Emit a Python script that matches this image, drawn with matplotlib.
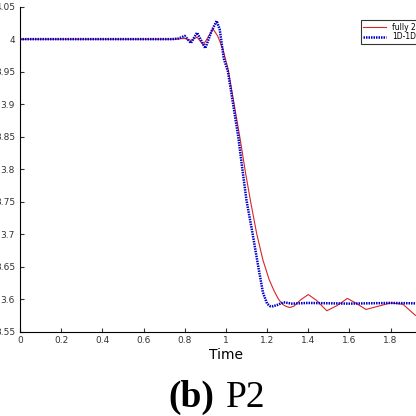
import matplotlib
matplotlib.use("Agg")
import matplotlib.pyplot as plt

t_red = [0, 0.70, 0.75, 0.80, 0.83, 0.86, 0.89, 0.915, 0.937, 0.96, 0.985, 1.01, 1.04, 1.07, 1.095, 1.12, 1.15, 1.18, 1.21, 1.235, 1.255, 1.275, 1.29, 1.31, 1.33, 1.36, 1.40, 1.44, 1.49, 1.54, 1.59, 1.63, 1.68, 1.74, 1.80, 1.86, 1.92, 2.0]
v_red = [4.0, 4.0, 4.0, 4.001, 3.998, 4.003, 3.991, 4.004, 4.016, 4.005, 3.985, 3.955, 3.90, 3.845, 3.795, 3.75, 3.70, 3.66, 3.63, 3.612, 3.600, 3.592, 3.589, 3.587, 3.589, 3.598, 3.607, 3.598, 3.582, 3.590, 3.601, 3.594, 3.584, 3.589, 3.594, 3.592, 3.575, 3.57]

t_blue = [0, 0.70, 0.74, 0.77, 0.80, 0.83, 0.86, 0.90, 0.93, 0.955, 0.97, 0.99, 1.01, 1.035, 1.06, 1.08, 1.10, 1.13, 1.16, 1.18, 1.20, 1.215, 1.23, 1.25, 1.28, 1.32, 1.40, 1.60, 1.80, 2.0]
v_blue = [4.0, 4.0, 4.0, 4.001, 4.005, 3.994, 4.010, 3.986, 4.012, 4.028, 4.015, 3.97, 3.95, 3.90, 3.85, 3.80, 3.752, 3.70, 3.645, 3.61, 3.593, 3.589, 3.589, 3.591, 3.595, 3.593, 3.594, 3.593, 3.594, 3.593]

fig = plt.figure(figsize=(4.16, 4.16), dpi=100)
ax = fig.add_axes([0.048, 0.203, 0.99, 0.781])
ax.plot(t_red, v_red, color='#d62728', lw=0.8, label='fully 2D')
ax.plot(t_blue, v_blue, color='#0000cc', lw=1.8, ls=(0, (0.6, 0.4)), label='1D-1D')
ax.set_xlim(0, 2)
ax.set_ylim(3.55, 4.05)
ax.set_xticks([0, 0.2, 0.4, 0.6, 0.8, 1, 1.2, 1.4, 1.6, 1.8, 2])
ax.set_xticklabels(['0', '0.2', '0.4', '0.6', '0.8', '1', '1.2', '1.4', '1.6', '1.8', '2'])
ax.set_yticks([3.55, 3.6, 3.65, 3.7, 3.75, 3.8, 3.85, 3.9, 3.95, 4.0, 4.05])
ax.set_yticklabels(['3.55', '3.6', '3.65', '3.7', '3.75', '3.8', '3.85', '3.9', '3.95', '4', '4.05'])
ax.tick_params(labelsize=6.5, direction='in', length=3, colors='#333333')
for s in ['top', 'right']:
    ax.spines[s].set_visible(False)
ax.set_xlabel('Time', fontsize=10, labelpad=2)
leg = ax.legend(loc='upper right', bbox_to_anchor=(0.99, 0.97), fontsize=5.5, frameon=True, fancybox=False,
                edgecolor='black', handlelength=3, borderpad=0.3, labelspacing=0.1)
leg.get_frame().set_linewidth(0.8)
fig.text(0.46, 0.022, '(b)', fontsize=27, fontweight='bold', family='Liberation Serif', ha='center')
fig.text(0.59, 0.022, 'P2', fontsize=27, family='Liberation Serif', ha='center')
fig.savefig('out.png', dpi=100)
